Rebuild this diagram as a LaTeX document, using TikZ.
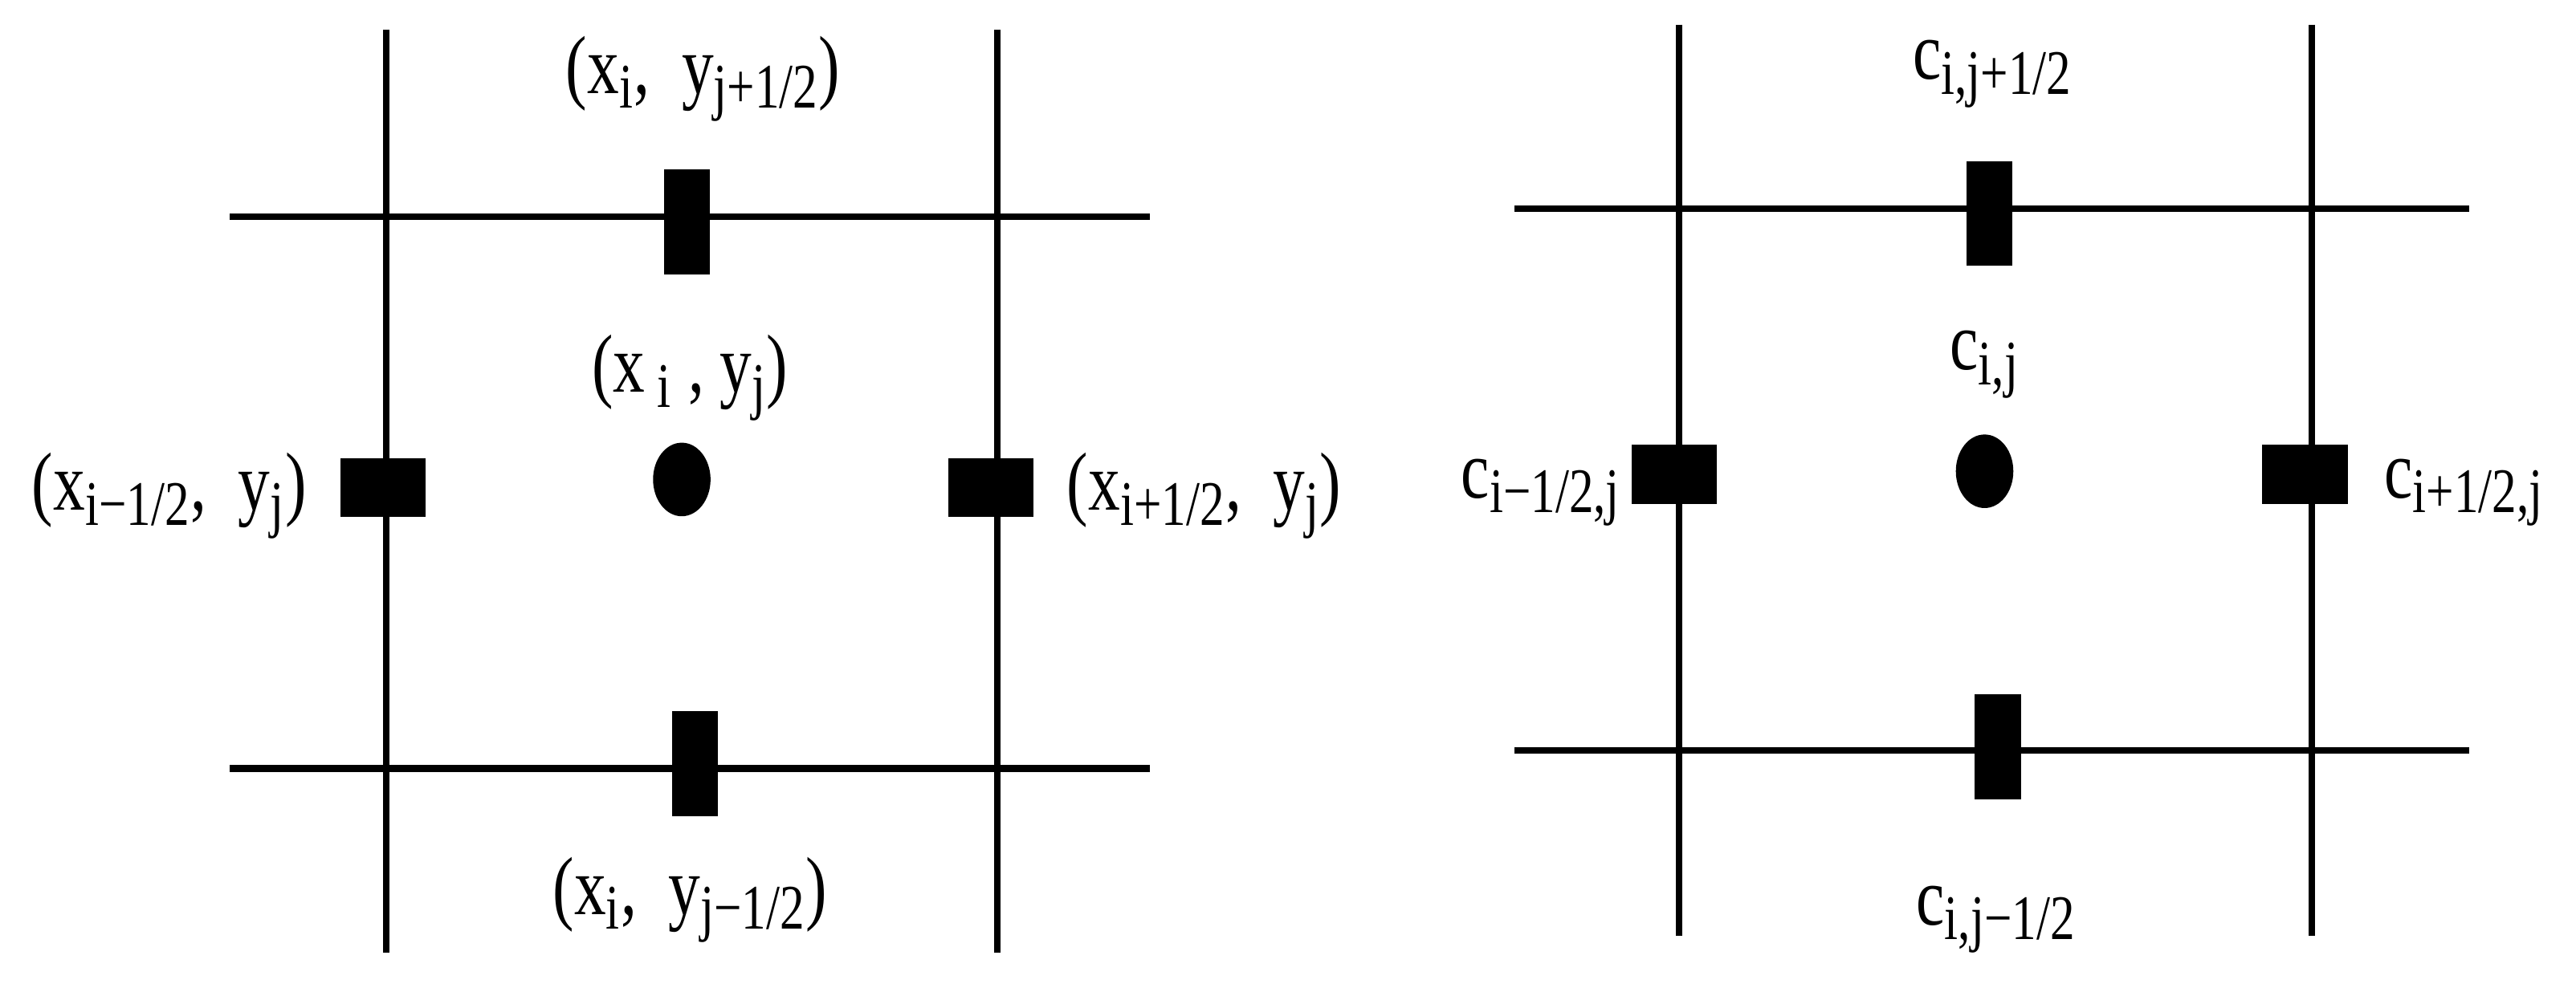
\documentclass[tikz,border=0pt]{standalone}
\usepackage{fontspec}
\setmainfont{Liberation Serif}
\usepackage{graphicx}
\newcommand{\lbl}[1]{\scalebox{0.85}[1.1]{\fontsize{26}{30}\selectfont #1}}
\newcommand{\sbs}[1]{\textsubscript{\fontsize{20}{22}\selectfont #1}}
\begin{document}
\begin{tikzpicture}[x=0.02cm,y=-0.02cm,
  gl/.style={line width=2.3pt},
  vbar/.style={fill=black,minimum width=0.56cm,minimum height=1.28cm,inner sep=0},
  hbar/.style={fill=black,minimum width=1.04cm,minimum height=0.72cm,inner sep=0},
  dot/.style={fill=black,ellipse,minimum width=0.68cm,minimum height=0.88cm,inner sep=0},
  lab/.style={inner sep=0}]
\useasboundingbox (0,0) rectangle (1568,604);
% left grid
\coordinate (a1) at (235,18); \coordinate (a2) at (235,580);
\coordinate (b1) at (607,18); \coordinate (b2) at (607,580);
\coordinate (c1) at (140,132); \coordinate (c2) at (700,132);
\coordinate (d1) at (140,468); \coordinate (d2) at (700,468);
\draw[gl] (a1)--(a2); \draw[gl] (b1)--(b2); \draw[gl] (c1)--(c2); \draw[gl] (d1)--(d2);
\node[vbar] (lt) at (418,135) {};
\node[vbar] (lb) at (423,465) {};
\node[hbar] (ll) at (233,297) {};
\node[hbar] (lr) at (603,297) {};
\node[draw=none,fill=black,shape=circle,minimum size=0.7cm,yscale=1.28,inner sep=0] (ld) at (415,292) {};
\node[lab] (t1) at (428,48) {\lbl{(x\sbs{i},\ \ y\sbs{j+1/2})}};
\node[lab] (t2) at (420,230) {\lbl{(x\sbs{ i} , y\sbs{j})}};
\node[lab] (t3) at (103,302) {\lbl{(x\sbs{i−1/2},\ \ y\sbs{j})}};
\node[lab] (t4) at (733,302) {\lbl{(x\sbs{i+1/2},\ \ y\sbs{j})}};
\node[lab] (t5) at (420,548) {\lbl{(x\sbs{i},\ \ y\sbs{j−1/2})}};
% right grid
\coordinate (e1) at (1022,15); \coordinate (e2) at (1022,570);
\coordinate (f1) at (1407,15); \coordinate (f2) at (1407,570);
\coordinate (g1) at (922,127); \coordinate (g2) at (1503,127);
\coordinate (h1) at (922,457); \coordinate (h2) at (1503,457);
\draw[gl] (e1)--(e2); \draw[gl] (f1)--(f2); \draw[gl] (g1)--(g2); \draw[gl] (h1)--(h2);
\node[vbar] (rt) at (1211,130) {};
\node[vbar] (rb) at (1216,455) {};
\node[hbar] (rl) at (1019,289) {};
\node[hbar] (rr) at (1403,289) {};
\node[fill=black,shape=circle,minimum size=0.7cm,yscale=1.28,inner sep=0] (rd) at (1208,287) {};
\node[lab] (u1) at (1213,45) {\lbl{c\sbs{i,j+1/2}}};
\node[lab] (u2) at (1208,222) {\lbl{c\sbs{i,j}}};
\node[lab] (u3) at (938,300) {\lbl{c\sbs{i−1/2,j}}};
\node[lab] (u4) at (1500,300) {\lbl{c\sbs{i+1/2,j}}};
\node[lab] (u5) at (1215,560) {\lbl{c\sbs{i,j−1/2}}};
\end{tikzpicture}
\end{document}
